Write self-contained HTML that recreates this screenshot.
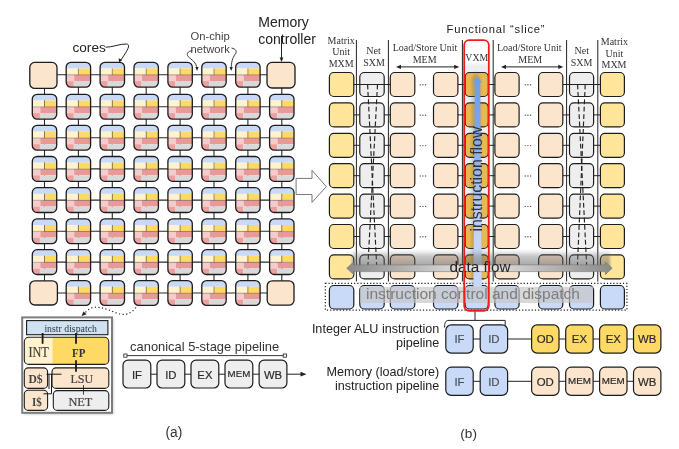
<!DOCTYPE html>
<html><head><meta charset="utf-8"><title>Architecture figure</title>
<style>html,body{margin:0;padding:0;background:#fff;}svg{display:block;will-change:transform;}text{font-family:"Liberation Sans", Arial, sans-serif;}.se{font-family:"Liberation Serif", "Times New Roman", serif;}</style></head><body>
<svg width="679" height="449" viewBox="0 0 679 449">
<defs>
<filter id="bl2" x="-20%" y="-20%" width="140%" height="140%"><feGaussianBlur stdDeviation="1.6"/></filter>
<filter id="bl3" x="-20%" y="-50%" width="140%" height="200%"><feGaussianBlur stdDeviation="2.2"/></filter>
<filter id="bl1" x="-20%" y="-20%" width="140%" height="140%"><feGaussianBlur stdDeviation="0.9"/></filter>
<linearGradient id="gIF" x1="0" y1="1" x2="0" y2="0"><stop offset="0" stop-color="#c9daf8"/><stop offset="0.3" stop-color="#c3d5f6"/><stop offset="0.75" stop-color="#7da7ec"/><stop offset="1" stop-color="#6d9eeb"/></linearGradient>
<linearGradient id="gDF" x1="0" y1="0" x2="1" y2="0"><stop offset="0" stop-color="#8a8a8a"/><stop offset="0.5" stop-color="#e8e8e8"/><stop offset="1" stop-color="#8a8a8a"/></linearGradient>
<linearGradient id="gSH" x1="0" y1="0" x2="0" y2="1"><stop offset="0" stop-color="#666" stop-opacity="0"/><stop offset="0.35" stop-color="#666" stop-opacity="0.38"/><stop offset="1" stop-color="#555" stop-opacity="0.55"/></linearGradient>
<clipPath id="cc"><rect x="-12.2" y="-12.4" width="24.4" height="24.8" rx="4.8"/></clipPath>
<g id="core">
<g clip-path="url(#cc)">
<rect x="-12.2" y="-12.4" width="24.4" height="6.2" fill="#c9daf8"/>
<rect x="-12.2" y="-6.2" width="12.2" height="6.4" fill="#fff2cc"/>
<rect x="0" y="-6.2" width="12.2" height="6.4" fill="#ffd966"/>
<rect x="-12.2" y="0.2" width="8" height="6.2" fill="#f4cccc"/>
<rect x="-4.2" y="0.2" width="16.4" height="6.2" fill="#ea9999"/>
<rect x="-12.2" y="6.4" width="7.6" height="6" fill="#ee9f9f"/>
<rect x="-4.6" y="6.4" width="16.8" height="6" fill="#d9d9d9"/>
<line x1="-12.2" y1="0.2" x2="12.2" y2="0.2" stroke="#555" stroke-width="0.7" opacity="0.55"/>
<line x1="0" y1="-6.2" x2="0" y2="0.2" stroke="#444" stroke-width="0.9" opacity="0.6"/>
</g>
<rect x="-12.2" y="-12.4" width="24.4" height="24.8" rx="4.8" fill="none" stroke="#1c1c1c" stroke-width="1.3"/>
</g>
</defs>
<rect width="679" height="449" fill="#ffffff"/>
<g stroke="#2a2a2a" stroke-width="1.1">
<line x1="44.5" y1="74.7" x2="281.8" y2="74.7"/>
<line x1="44.5" y1="106.7" x2="281.8" y2="106.7"/>
<line x1="44.5" y1="137.8" x2="281.8" y2="137.8"/>
<line x1="44.5" y1="168.9" x2="281.8" y2="168.9"/>
<line x1="44.5" y1="200.1" x2="281.8" y2="200.1"/>
<line x1="44.5" y1="231.2" x2="281.8" y2="231.2"/>
<line x1="44.5" y1="262.1" x2="281.8" y2="262.1"/>
<line x1="44.5" y1="293.0" x2="281.8" y2="293.0"/>
<line x1="44.5" y1="74.7" x2="44.5" y2="293.0"/>
<line x1="78.4" y1="74.7" x2="78.4" y2="293.0"/>
<line x1="112.3" y1="74.7" x2="112.3" y2="293.0"/>
<line x1="146.2" y1="74.7" x2="146.2" y2="293.0"/>
<line x1="180.1" y1="74.7" x2="180.1" y2="293.0"/>
<line x1="214.0" y1="74.7" x2="214.0" y2="293.0"/>
<line x1="247.9" y1="74.7" x2="247.9" y2="293.0"/>
<line x1="281.8" y1="74.7" x2="281.8" y2="293.0"/>
</g>
<rect x="29.8" y="62.4" width="27.2" height="26.0" rx="5" fill="#fce5cd" stroke="#1c1c1c" stroke-width="1.3"/>
<use href="#core" x="78.4" y="74.7"/>
<use href="#core" x="112.3" y="74.7"/>
<use href="#core" x="146.2" y="74.7"/>
<use href="#core" x="180.1" y="74.7"/>
<use href="#core" x="214.0" y="74.7"/>
<use href="#core" x="247.9" y="74.7"/>
<rect x="267.0" y="62.4" width="28.0" height="25.6" rx="5" fill="#fce5cd" stroke="#1c1c1c" stroke-width="1.3"/>
<use href="#core" x="44.5" y="106.7"/>
<use href="#core" x="78.4" y="106.7"/>
<use href="#core" x="112.3" y="106.7"/>
<use href="#core" x="146.2" y="106.7"/>
<use href="#core" x="180.1" y="106.7"/>
<use href="#core" x="214.0" y="106.7"/>
<use href="#core" x="247.9" y="106.7"/>
<use href="#core" x="281.8" y="106.7"/>
<use href="#core" x="44.5" y="137.8"/>
<use href="#core" x="78.4" y="137.8"/>
<use href="#core" x="112.3" y="137.8"/>
<use href="#core" x="146.2" y="137.8"/>
<use href="#core" x="180.1" y="137.8"/>
<use href="#core" x="214.0" y="137.8"/>
<use href="#core" x="247.9" y="137.8"/>
<use href="#core" x="281.8" y="137.8"/>
<use href="#core" x="44.5" y="168.9"/>
<use href="#core" x="78.4" y="168.9"/>
<use href="#core" x="112.3" y="168.9"/>
<use href="#core" x="146.2" y="168.9"/>
<use href="#core" x="180.1" y="168.9"/>
<use href="#core" x="214.0" y="168.9"/>
<use href="#core" x="247.9" y="168.9"/>
<use href="#core" x="281.8" y="168.9"/>
<use href="#core" x="44.5" y="200.1"/>
<use href="#core" x="78.4" y="200.1"/>
<use href="#core" x="112.3" y="200.1"/>
<use href="#core" x="146.2" y="200.1"/>
<use href="#core" x="180.1" y="200.1"/>
<use href="#core" x="214.0" y="200.1"/>
<use href="#core" x="247.9" y="200.1"/>
<use href="#core" x="281.8" y="200.1"/>
<use href="#core" x="44.5" y="231.2"/>
<use href="#core" x="78.4" y="231.2"/>
<use href="#core" x="112.3" y="231.2"/>
<use href="#core" x="146.2" y="231.2"/>
<use href="#core" x="180.1" y="231.2"/>
<use href="#core" x="214.0" y="231.2"/>
<use href="#core" x="247.9" y="231.2"/>
<use href="#core" x="281.8" y="231.2"/>
<use href="#core" x="44.5" y="262.1"/>
<use href="#core" x="78.4" y="262.1"/>
<use href="#core" x="112.3" y="262.1"/>
<use href="#core" x="146.2" y="262.1"/>
<use href="#core" x="180.1" y="262.1"/>
<use href="#core" x="214.0" y="262.1"/>
<use href="#core" x="247.9" y="262.1"/>
<use href="#core" x="281.8" y="262.1"/>
<rect x="29.8" y="280.8" width="27.6" height="24.2" rx="5" fill="#fce5cd" stroke="#1c1c1c" stroke-width="1.3"/>
<use href="#core" x="78.4" y="293.0"/>
<use href="#core" x="112.3" y="293.0"/>
<use href="#core" x="146.2" y="293.0"/>
<use href="#core" x="180.1" y="293.0"/>
<use href="#core" x="214.0" y="293.0"/>
<use href="#core" x="247.9" y="293.0"/>
<rect x="267.2" y="280.8" width="26.8" height="24.4" rx="5" fill="#fce5cd" stroke="#1c1c1c" stroke-width="1.3"/>
<text x="72.5" y="52.2" font-size="13.6" fill="#222">cores</text>
<path d="M105.5 47.2 C112 47.5 120 43.6 126.5 44 C131 44.5 128 50 119.8 61.5" fill="none" stroke="#222" stroke-width="1"/>
<path d="M119.2 62.4 L118.6 58.2 L122.2 60 Z" fill="#222"/>
<text x="190.6" y="40" font-size="11.2" fill="#444">On-chip</text>
<text x="190.6" y="53.4" font-size="11.2" fill="#444">network</text>
<path d="M192.4 50.6 C188 51 186 54 188.2 56.6 C191.5 60 196.6 62 196.9 69" fill="none" stroke="#222" stroke-width="0.9"/>
<path d="M197 71 L195.4 67 L198.6 67 Z" fill="#222"/>
<path d="M231.5 48 C236 49 237.5 51.5 235 54.5 C232.5 58 231.3 62 231.2 69" fill="none" stroke="#222" stroke-width="0.9"/>
<path d="M231.2 71 L229.6 67 L232.8 67 Z" fill="#222"/>
<text x="258.3" y="27.2" font-size="14" fill="#222">Memory</text>
<text x="258.3" y="44" font-size="14" fill="#222">controller</text>
<line x1="281.5" y1="36" x2="281.5" y2="59" stroke="#222" stroke-width="1"/>
<path d="M281.5 62 L279.6 57.5 L283.4 57.5 Z" fill="#222"/>
<path d="M135.8 307.5 C132 313 126 315.5 120 314 C111 311.5 103 306.5 94 307.3 C90 307.8 86.5 311 84 314" fill="none" stroke="#222" stroke-width="1.2" stroke-dasharray="1.2 2.4"/>
<path d="M81.6 316 L83.4 311.4 L86.6 314.2 Z" fill="#222"/>
<rect x="23.4" y="318.8" width="90" height="95.6" fill="#9a9a9a" opacity="0.55" filter="url(#bl1)"/>
<rect x="22.2" y="317.4" width="89.8" height="95.4" fill="#ffffff" stroke="#7d7d7d" stroke-width="2"/>
<rect x="26.6" y="320.6" width="81.3" height="14.1" fill="#cfe2f3" stroke="#1c1c1c" stroke-width="1.1"/>
<clipPath id="cfp"><rect x="24.3" y="337.3" width="84.5" height="27.1" rx="4.5"/></clipPath>
<g clip-path="url(#cfp)"><rect x="24.3" y="337.3" width="28.2" height="27.1" fill="#fff2cc"/><rect x="52.5" y="337.3" width="56.3" height="27.1" fill="#ffd966"/></g>
<rect x="24.3" y="337.3" width="84.5" height="27.1" rx="4.5" fill="none" stroke="#1c1c1c" stroke-width="1.1"/>
<rect x="24.3" y="367.9" width="23.3" height="20.5" rx="4" fill="#fce5cd" stroke="#1c1c1c" stroke-width="1.1"/>
<rect x="52" y="367.9" width="56.8" height="20.5" rx="4" fill="#fce5cd" stroke="#1c1c1c" stroke-width="1.1"/>
<rect x="24.3" y="390.2" width="23.3" height="20.2" rx="4" fill="#fce5cd" stroke="#1c1c1c" stroke-width="1.1"/>
<rect x="53.3" y="390.6" width="55.5" height="19.8" rx="4" fill="#eeeeee" stroke="#1c1c1c" stroke-width="1.1"/>
<g stroke="#1a1a1a" fill="none">
<line x1="42.6" y1="333" x2="42.6" y2="343.8" stroke-width="1.8"/>
<line x1="76" y1="333" x2="76" y2="343.8" stroke-width="1.8"/>
<line x1="76" y1="360.3" x2="76" y2="371.8" stroke-width="1.8"/>
<line x1="83.5" y1="385" x2="83.5" y2="394.7" stroke-width="0.8"/>
<path d="M46.5 374.2 H61.5 M51.5 374.2 V393.8 H43.5 M49 374.2 V389" stroke-width="1"/>
</g>
<g class="se">
<text class="se" x="44.4" y="332" font-size="9.9" textLength="52.5" lengthAdjust="spacingAndGlyphs" fill="#333">instr dispatch</text>
<text class="se" x="28.4" y="356.7" font-size="14" textLength="20.4" lengthAdjust="spacingAndGlyphs" fill="#444" stroke="#444" stroke-width="0.2">INT</text>
<text class="se" x="72" y="356.7" font-size="13.4" font-weight="bold" textLength="13.3" lengthAdjust="spacingAndGlyphs" fill="#333">FP</text>
<text class="se" x="28.4" y="383.4" font-size="13" font-weight="bold" textLength="14.2" lengthAdjust="spacingAndGlyphs" fill="#444">D$</text>
<text class="se" x="70.5" y="383.4" font-size="13.2" textLength="22.8" lengthAdjust="spacingAndGlyphs" fill="#444" stroke="#444" stroke-width="0.2">LSU</text>
<text class="se" x="31.9" y="405.7" font-size="13" font-weight="bold" textLength="9.8" lengthAdjust="spacingAndGlyphs" fill="#444">I$</text>
<text class="se" x="68.4" y="405.7" font-size="13" textLength="24" lengthAdjust="spacingAndGlyphs" fill="#444" stroke="#444" stroke-width="0.2">NET</text>
</g>
<text x="130.1" y="351.4" font-size="12.9" fill="#333">canonical 5-stage pipeline</text>
<line x1="125.5" y1="355.6" x2="284.8" y2="355.6" stroke="#222" stroke-width="0.9"/>
<rect x="123.8" y="354" width="3.2" height="3.2" fill="#fff" stroke="#222" stroke-width="0.8"/>
<rect x="283.2" y="354" width="3.2" height="3.2" fill="#fff" stroke="#222" stroke-width="0.8"/>
<line x1="150" y1="374.2" x2="262" y2="374.2" stroke="#222" stroke-width="1"/>
<line x1="287" y1="374.2" x2="302" y2="374.2" stroke="#222" stroke-width="1"/>
<path d="M306.5 374.2 L300.5 371.8 L300.5 376.6 Z" fill="#222"/>
<rect x="123.0" y="360.2" width="27.8" height="27.8" rx="5" fill="#eeeeee" stroke="#1c1c1c" stroke-width="1.2"/>
<text x="136.9" y="378.5" font-size="11.3" text-anchor="middle" fill="#2a2a2a" stroke="#2a2a2a" stroke-width="0.18">IF</text>
<rect x="157.0" y="360.2" width="27.8" height="27.8" rx="5" fill="#eeeeee" stroke="#1c1c1c" stroke-width="1.2"/>
<text x="170.9" y="378.5" font-size="11.3" text-anchor="middle" fill="#2a2a2a" stroke="#2a2a2a" stroke-width="0.18">ID</text>
<rect x="191.0" y="360.2" width="27.8" height="27.8" rx="5" fill="#eeeeee" stroke="#1c1c1c" stroke-width="1.2"/>
<text x="204.9" y="378.5" font-size="11.3" text-anchor="middle" fill="#2a2a2a" stroke="#2a2a2a" stroke-width="0.18">EX</text>
<rect x="225.0" y="360.2" width="27.8" height="27.8" rx="5" fill="#eeeeee" stroke="#1c1c1c" stroke-width="1.2"/>
<text x="238.9" y="377.2" font-size="9.7" text-anchor="middle" fill="#2a2a2a" stroke="#2a2a2a" stroke-width="0.18">MEM</text>
<rect x="259.1" y="360.2" width="27.8" height="27.8" rx="5" fill="#eeeeee" stroke="#1c1c1c" stroke-width="1.2"/>
<text x="273.0" y="378.5" font-size="11.3" text-anchor="middle" fill="#2a2a2a" stroke="#2a2a2a" stroke-width="0.18">WB</text>
<text x="165.5" y="436.8" font-size="13.8" fill="#333">(a)</text>
<path d="M296.1 178.4 H312 V170.3 L326.3 186.6 L312 202.4 V194.5 H296.1 Z" fill="#fff" stroke="#777" stroke-width="1"/>
<g stroke="#222" stroke-width="1">
<line x1="356.4" y1="40" x2="356.4" y2="281.5"/>
<line x1="388.4" y1="40" x2="388.4" y2="281.5"/>
<line x1="462.4" y1="40" x2="462.4" y2="281.5"/>
<line x1="493.2" y1="40" x2="493.2" y2="281.5"/>
<line x1="566.6" y1="40" x2="566.6" y2="281.5"/>
<line x1="597.8" y1="40" x2="597.8" y2="281.5"/>
</g>
<g stroke="#222" stroke-width="1">
<line x1="353.8" y1="84.5" x2="359.8" y2="84.5"/>
<line x1="384.2" y1="84.5" x2="390.3" y2="84.5"/>
<line x1="457.9" y1="84.5" x2="465.1" y2="84.5"/>
<line x1="488.3" y1="84.5" x2="494.9" y2="84.5"/>
<line x1="562.8" y1="84.5" x2="569.5" y2="84.5"/>
<line x1="593.6" y1="84.5" x2="600.4" y2="84.5"/>
<line x1="353.8" y1="114.9" x2="359.8" y2="114.9"/>
<line x1="384.2" y1="114.9" x2="390.3" y2="114.9"/>
<line x1="457.9" y1="114.9" x2="465.1" y2="114.9"/>
<line x1="488.3" y1="114.9" x2="494.9" y2="114.9"/>
<line x1="562.8" y1="114.9" x2="569.5" y2="114.9"/>
<line x1="593.6" y1="114.9" x2="600.4" y2="114.9"/>
<line x1="353.8" y1="145.3" x2="359.8" y2="145.3"/>
<line x1="384.2" y1="145.3" x2="390.3" y2="145.3"/>
<line x1="457.9" y1="145.3" x2="465.1" y2="145.3"/>
<line x1="488.3" y1="145.3" x2="494.9" y2="145.3"/>
<line x1="562.8" y1="145.3" x2="569.5" y2="145.3"/>
<line x1="593.6" y1="145.3" x2="600.4" y2="145.3"/>
<line x1="353.8" y1="175.7" x2="359.8" y2="175.7"/>
<line x1="384.2" y1="175.7" x2="390.3" y2="175.7"/>
<line x1="457.9" y1="175.7" x2="465.1" y2="175.7"/>
<line x1="488.3" y1="175.7" x2="494.9" y2="175.7"/>
<line x1="562.8" y1="175.7" x2="569.5" y2="175.7"/>
<line x1="593.6" y1="175.7" x2="600.4" y2="175.7"/>
<line x1="353.8" y1="206.1" x2="359.8" y2="206.1"/>
<line x1="384.2" y1="206.1" x2="390.3" y2="206.1"/>
<line x1="457.9" y1="206.1" x2="465.1" y2="206.1"/>
<line x1="488.3" y1="206.1" x2="494.9" y2="206.1"/>
<line x1="562.8" y1="206.1" x2="569.5" y2="206.1"/>
<line x1="593.6" y1="206.1" x2="600.4" y2="206.1"/>
<line x1="353.8" y1="236.5" x2="359.8" y2="236.5"/>
<line x1="384.2" y1="236.5" x2="390.3" y2="236.5"/>
<line x1="457.9" y1="236.5" x2="465.1" y2="236.5"/>
<line x1="488.3" y1="236.5" x2="494.9" y2="236.5"/>
<line x1="562.8" y1="236.5" x2="569.5" y2="236.5"/>
<line x1="593.6" y1="236.5" x2="600.4" y2="236.5"/>
<line x1="353.8" y1="266.9" x2="359.8" y2="266.9"/>
<line x1="384.2" y1="266.9" x2="390.3" y2="266.9"/>
<line x1="457.9" y1="266.9" x2="465.1" y2="266.9"/>
<line x1="488.3" y1="266.9" x2="494.9" y2="266.9"/>
<line x1="562.8" y1="266.9" x2="569.5" y2="266.9"/>
<line x1="593.6" y1="266.9" x2="600.4" y2="266.9"/>
</g>
<rect x="329.4" y="72.5" width="24.4" height="24.0" rx="4.5" fill="#ffe599" stroke="#1c1c1c" stroke-width="1.2"/>
<rect x="359.8" y="72.5" width="24.4" height="24.0" rx="4.5" fill="#eeeeee" stroke="#1c1c1c" stroke-width="1.2"/>
<rect x="390.3" y="72.5" width="24.5" height="24.0" rx="4.5" fill="#fce5cd" stroke="#1c1c1c" stroke-width="1.2"/>
<rect x="433.5" y="72.5" width="24.4" height="24.0" rx="4.5" fill="#fce5cd" stroke="#1c1c1c" stroke-width="1.2"/>
<rect x="465.1" y="72.5" width="23.2" height="24.0" rx="4.5" fill="#f6c44c" stroke="#1c1c1c" stroke-width="1.2"/>
<rect x="494.9" y="72.5" width="24.2" height="24.0" rx="4.5" fill="#fce5cd" stroke="#1c1c1c" stroke-width="1.2"/>
<rect x="538.6" y="72.5" width="24.2" height="24.0" rx="4.5" fill="#fce5cd" stroke="#1c1c1c" stroke-width="1.2"/>
<rect x="569.5" y="72.5" width="24.1" height="24.0" rx="4.5" fill="#eeeeee" stroke="#1c1c1c" stroke-width="1.2"/>
<rect x="600.4" y="72.5" width="24.0" height="24.0" rx="4.5" fill="#ffe599" stroke="#1c1c1c" stroke-width="1.2"/>
<circle cx="420.2" cy="84.8" r="0.7" fill="#555"/>
<circle cx="422.9" cy="84.8" r="0.7" fill="#555"/>
<circle cx="425.6" cy="84.8" r="0.7" fill="#555"/>
<circle cx="525.2" cy="84.8" r="0.7" fill="#555"/>
<circle cx="527.9" cy="84.8" r="0.7" fill="#555"/>
<circle cx="530.6" cy="84.8" r="0.7" fill="#555"/>
<rect x="329.4" y="102.9" width="24.4" height="24.0" rx="4.5" fill="#ffe599" stroke="#1c1c1c" stroke-width="1.2"/>
<rect x="359.8" y="102.9" width="24.4" height="24.0" rx="4.5" fill="#eeeeee" stroke="#1c1c1c" stroke-width="1.2"/>
<rect x="390.3" y="102.9" width="24.5" height="24.0" rx="4.5" fill="#fce5cd" stroke="#1c1c1c" stroke-width="1.2"/>
<rect x="433.5" y="102.9" width="24.4" height="24.0" rx="4.5" fill="#fce5cd" stroke="#1c1c1c" stroke-width="1.2"/>
<rect x="465.1" y="102.9" width="23.2" height="24.0" rx="4.5" fill="#f6c44c" stroke="#1c1c1c" stroke-width="1.2"/>
<rect x="494.9" y="102.9" width="24.2" height="24.0" rx="4.5" fill="#fce5cd" stroke="#1c1c1c" stroke-width="1.2"/>
<rect x="538.6" y="102.9" width="24.2" height="24.0" rx="4.5" fill="#fce5cd" stroke="#1c1c1c" stroke-width="1.2"/>
<rect x="569.5" y="102.9" width="24.1" height="24.0" rx="4.5" fill="#eeeeee" stroke="#1c1c1c" stroke-width="1.2"/>
<rect x="600.4" y="102.9" width="24.0" height="24.0" rx="4.5" fill="#ffe599" stroke="#1c1c1c" stroke-width="1.2"/>
<circle cx="420.2" cy="115.2" r="0.7" fill="#555"/>
<circle cx="422.9" cy="115.2" r="0.7" fill="#555"/>
<circle cx="425.6" cy="115.2" r="0.7" fill="#555"/>
<circle cx="525.2" cy="115.2" r="0.7" fill="#555"/>
<circle cx="527.9" cy="115.2" r="0.7" fill="#555"/>
<circle cx="530.6" cy="115.2" r="0.7" fill="#555"/>
<rect x="329.4" y="133.3" width="24.4" height="24.0" rx="4.5" fill="#ffe599" stroke="#1c1c1c" stroke-width="1.2"/>
<rect x="359.8" y="133.3" width="24.4" height="24.0" rx="4.5" fill="#eeeeee" stroke="#1c1c1c" stroke-width="1.2"/>
<rect x="390.3" y="133.3" width="24.5" height="24.0" rx="4.5" fill="#fce5cd" stroke="#1c1c1c" stroke-width="1.2"/>
<rect x="433.5" y="133.3" width="24.4" height="24.0" rx="4.5" fill="#fce5cd" stroke="#1c1c1c" stroke-width="1.2"/>
<rect x="465.1" y="133.3" width="23.2" height="24.0" rx="4.5" fill="#f6c44c" stroke="#1c1c1c" stroke-width="1.2"/>
<rect x="494.9" y="133.3" width="24.2" height="24.0" rx="4.5" fill="#fce5cd" stroke="#1c1c1c" stroke-width="1.2"/>
<rect x="538.6" y="133.3" width="24.2" height="24.0" rx="4.5" fill="#fce5cd" stroke="#1c1c1c" stroke-width="1.2"/>
<rect x="569.5" y="133.3" width="24.1" height="24.0" rx="4.5" fill="#eeeeee" stroke="#1c1c1c" stroke-width="1.2"/>
<rect x="600.4" y="133.3" width="24.0" height="24.0" rx="4.5" fill="#ffe599" stroke="#1c1c1c" stroke-width="1.2"/>
<circle cx="420.2" cy="145.6" r="0.7" fill="#555"/>
<circle cx="422.9" cy="145.6" r="0.7" fill="#555"/>
<circle cx="425.6" cy="145.6" r="0.7" fill="#555"/>
<circle cx="525.2" cy="145.6" r="0.7" fill="#555"/>
<circle cx="527.9" cy="145.6" r="0.7" fill="#555"/>
<circle cx="530.6" cy="145.6" r="0.7" fill="#555"/>
<rect x="329.4" y="163.7" width="24.4" height="24.0" rx="4.5" fill="#ffe599" stroke="#1c1c1c" stroke-width="1.2"/>
<rect x="359.8" y="163.7" width="24.4" height="24.0" rx="4.5" fill="#eeeeee" stroke="#1c1c1c" stroke-width="1.2"/>
<rect x="390.3" y="163.7" width="24.5" height="24.0" rx="4.5" fill="#fce5cd" stroke="#1c1c1c" stroke-width="1.2"/>
<rect x="433.5" y="163.7" width="24.4" height="24.0" rx="4.5" fill="#fce5cd" stroke="#1c1c1c" stroke-width="1.2"/>
<rect x="465.1" y="163.7" width="23.2" height="24.0" rx="4.5" fill="#f6c44c" stroke="#1c1c1c" stroke-width="1.2"/>
<rect x="494.9" y="163.7" width="24.2" height="24.0" rx="4.5" fill="#fce5cd" stroke="#1c1c1c" stroke-width="1.2"/>
<rect x="538.6" y="163.7" width="24.2" height="24.0" rx="4.5" fill="#fce5cd" stroke="#1c1c1c" stroke-width="1.2"/>
<rect x="569.5" y="163.7" width="24.1" height="24.0" rx="4.5" fill="#eeeeee" stroke="#1c1c1c" stroke-width="1.2"/>
<rect x="600.4" y="163.7" width="24.0" height="24.0" rx="4.5" fill="#ffe599" stroke="#1c1c1c" stroke-width="1.2"/>
<circle cx="420.2" cy="176.0" r="0.7" fill="#555"/>
<circle cx="422.9" cy="176.0" r="0.7" fill="#555"/>
<circle cx="425.6" cy="176.0" r="0.7" fill="#555"/>
<circle cx="525.2" cy="176.0" r="0.7" fill="#555"/>
<circle cx="527.9" cy="176.0" r="0.7" fill="#555"/>
<circle cx="530.6" cy="176.0" r="0.7" fill="#555"/>
<rect x="329.4" y="194.1" width="24.4" height="24.0" rx="4.5" fill="#ffe599" stroke="#1c1c1c" stroke-width="1.2"/>
<rect x="359.8" y="194.1" width="24.4" height="24.0" rx="4.5" fill="#eeeeee" stroke="#1c1c1c" stroke-width="1.2"/>
<rect x="390.3" y="194.1" width="24.5" height="24.0" rx="4.5" fill="#fce5cd" stroke="#1c1c1c" stroke-width="1.2"/>
<rect x="433.5" y="194.1" width="24.4" height="24.0" rx="4.5" fill="#fce5cd" stroke="#1c1c1c" stroke-width="1.2"/>
<rect x="465.1" y="194.1" width="23.2" height="24.0" rx="4.5" fill="#f6c44c" stroke="#1c1c1c" stroke-width="1.2"/>
<rect x="494.9" y="194.1" width="24.2" height="24.0" rx="4.5" fill="#fce5cd" stroke="#1c1c1c" stroke-width="1.2"/>
<rect x="538.6" y="194.1" width="24.2" height="24.0" rx="4.5" fill="#fce5cd" stroke="#1c1c1c" stroke-width="1.2"/>
<rect x="569.5" y="194.1" width="24.1" height="24.0" rx="4.5" fill="#eeeeee" stroke="#1c1c1c" stroke-width="1.2"/>
<rect x="600.4" y="194.1" width="24.0" height="24.0" rx="4.5" fill="#ffe599" stroke="#1c1c1c" stroke-width="1.2"/>
<circle cx="420.2" cy="206.4" r="0.7" fill="#555"/>
<circle cx="422.9" cy="206.4" r="0.7" fill="#555"/>
<circle cx="425.6" cy="206.4" r="0.7" fill="#555"/>
<circle cx="525.2" cy="206.4" r="0.7" fill="#555"/>
<circle cx="527.9" cy="206.4" r="0.7" fill="#555"/>
<circle cx="530.6" cy="206.4" r="0.7" fill="#555"/>
<rect x="329.4" y="224.5" width="24.4" height="24.0" rx="4.5" fill="#ffe599" stroke="#1c1c1c" stroke-width="1.2"/>
<rect x="359.8" y="224.5" width="24.4" height="24.0" rx="4.5" fill="#eeeeee" stroke="#1c1c1c" stroke-width="1.2"/>
<rect x="390.3" y="224.5" width="24.5" height="24.0" rx="4.5" fill="#fce5cd" stroke="#1c1c1c" stroke-width="1.2"/>
<rect x="433.5" y="224.5" width="24.4" height="24.0" rx="4.5" fill="#fce5cd" stroke="#1c1c1c" stroke-width="1.2"/>
<rect x="465.1" y="224.5" width="23.2" height="24.0" rx="4.5" fill="#f6c44c" stroke="#1c1c1c" stroke-width="1.2"/>
<rect x="494.9" y="224.5" width="24.2" height="24.0" rx="4.5" fill="#fce5cd" stroke="#1c1c1c" stroke-width="1.2"/>
<rect x="538.6" y="224.5" width="24.2" height="24.0" rx="4.5" fill="#fce5cd" stroke="#1c1c1c" stroke-width="1.2"/>
<rect x="569.5" y="224.5" width="24.1" height="24.0" rx="4.5" fill="#eeeeee" stroke="#1c1c1c" stroke-width="1.2"/>
<rect x="600.4" y="224.5" width="24.0" height="24.0" rx="4.5" fill="#ffe599" stroke="#1c1c1c" stroke-width="1.2"/>
<circle cx="420.2" cy="236.8" r="0.7" fill="#555"/>
<circle cx="422.9" cy="236.8" r="0.7" fill="#555"/>
<circle cx="425.6" cy="236.8" r="0.7" fill="#555"/>
<circle cx="525.2" cy="236.8" r="0.7" fill="#555"/>
<circle cx="527.9" cy="236.8" r="0.7" fill="#555"/>
<circle cx="530.6" cy="236.8" r="0.7" fill="#555"/>
<rect x="329.4" y="254.9" width="24.4" height="24.0" rx="4.5" fill="#ffe599" stroke="#1c1c1c" stroke-width="1.2"/>
<rect x="359.8" y="254.9" width="24.4" height="24.0" rx="4.5" fill="#eeeeee" stroke="#1c1c1c" stroke-width="1.2"/>
<rect x="390.3" y="254.9" width="24.5" height="24.0" rx="4.5" fill="#fce5cd" stroke="#1c1c1c" stroke-width="1.2"/>
<rect x="433.5" y="254.9" width="24.4" height="24.0" rx="4.5" fill="#fce5cd" stroke="#1c1c1c" stroke-width="1.2"/>
<rect x="465.1" y="254.9" width="23.2" height="24.0" rx="4.5" fill="#f6c44c" stroke="#1c1c1c" stroke-width="1.2"/>
<rect x="494.9" y="254.9" width="24.2" height="24.0" rx="4.5" fill="#fce5cd" stroke="#1c1c1c" stroke-width="1.2"/>
<rect x="538.6" y="254.9" width="24.2" height="24.0" rx="4.5" fill="#fce5cd" stroke="#1c1c1c" stroke-width="1.2"/>
<rect x="569.5" y="254.9" width="24.1" height="24.0" rx="4.5" fill="#eeeeee" stroke="#1c1c1c" stroke-width="1.2"/>
<rect x="600.4" y="254.9" width="24.0" height="24.0" rx="4.5" fill="#ffe599" stroke="#1c1c1c" stroke-width="1.2"/>
<circle cx="420.2" cy="267.2" r="0.7" fill="#555"/>
<circle cx="422.9" cy="267.2" r="0.7" fill="#555"/>
<circle cx="425.6" cy="267.2" r="0.7" fill="#555"/>
<circle cx="525.2" cy="267.2" r="0.7" fill="#555"/>
<circle cx="527.9" cy="267.2" r="0.7" fill="#555"/>
<circle cx="530.6" cy="267.2" r="0.7" fill="#555"/>
<g stroke="#222" stroke-width="1" fill="none">
<line x1="359.8" y1="84.5" x2="384.2" y2="84.5"/>
<line x1="569.5" y1="84.5" x2="593.6" y2="84.5"/>
<g stroke-dasharray="4.8 2.6" stroke-width="1.15">
<line x1="367.6" y1="84.6" x2="376.7" y2="266"/>
<line x1="377.5" y1="84.6" x2="367.9" y2="266"/>
<line x1="577.6" y1="84.6" x2="586.7" y2="266"/>
<line x1="585.2" y1="84.6" x2="577.4" y2="266"/>
</g></g>
<rect x="325.3" y="283.3" width="301.6" height="26.8" fill="none" stroke="#222" stroke-width="1.2" stroke-dasharray="1.2 2"/>
<rect x="329.4" y="285.5" width="24.4" height="23.5" rx="4.5" fill="#c9daf8" stroke="#1c1c1c" stroke-width="1.2"/>
<rect x="359.8" y="285.5" width="24.4" height="23.5" rx="4.5" fill="#c9daf8" stroke="#1c1c1c" stroke-width="1.2"/>
<rect x="390.3" y="285.5" width="24.5" height="23.5" rx="4.5" fill="#c9daf8" stroke="#1c1c1c" stroke-width="1.2"/>
<rect x="433.5" y="285.5" width="24.4" height="23.5" rx="4.5" fill="#c9daf8" stroke="#1c1c1c" stroke-width="1.2"/>
<rect x="465.1" y="285.5" width="23.2" height="23.5" rx="4.5" fill="#c9daf8" stroke="#1c1c1c" stroke-width="1.2"/>
<rect x="494.9" y="285.5" width="24.2" height="23.5" rx="4.5" fill="#c9daf8" stroke="#1c1c1c" stroke-width="1.2"/>
<rect x="538.6" y="285.5" width="24.2" height="23.5" rx="4.5" fill="#c9daf8" stroke="#1c1c1c" stroke-width="1.2"/>
<rect x="569.5" y="285.5" width="24.1" height="23.5" rx="4.5" fill="#c9daf8" stroke="#1c1c1c" stroke-width="1.2"/>
<rect x="600.4" y="285.5" width="24.0" height="23.5" rx="4.5" fill="#c9daf8" stroke="#1c1c1c" stroke-width="1.2"/>
<rect x="465" y="64" width="23.6" height="222" fill="#667" opacity="0.10" filter="url(#bl1)"/>
<path d="M472 84 L477.4 75.5 L482.8 84 L481.6 84 L482.2 305 L473.2 305 L473.4 84 Z" fill="#556" opacity="0.28" filter="url(#bl2)" transform="translate(-1.5,-4)"/>
<path d="M477.4 76.6 L482.2 82.6 L480.2 82.6 L481.9 305.5 L473.3 305.5 L474.8 82.6 L472.6 82.6 Z" fill="url(#gIF)"/>
<text transform="translate(481.6,231.6) rotate(-90)" font-size="15.8" fill="#333" textLength="105" lengthAdjust="spacingAndGlyphs">instruction flow</text>
<rect x="360" y="286.8" width="233" height="16.2" fill="#c6c6c6" opacity="0.68"/>
<text x="366" y="298.8" font-size="15.5" fill="#7d7d7d" textLength="214" lengthAdjust="spacingAndGlyphs">instruction control and dispatch</text>
<rect x="352" y="250" width="258" height="18" fill="url(#gSH)" filter="url(#bl1)"/>
<path d="M346.7 268.2 L353.6 262 V264.9 H605.4 V262 L612.2 268.2 L605.4 274.6 V271.6 H353.6 V274.6 Z" fill="url(#gDF)" stroke="#777" stroke-width="0.6"/>
<text x="449.4" y="272" font-size="15.3" fill="#222">data flow</text>
<rect x="464.2" y="40.2" width="24.6" height="270.6" rx="5" fill="none" stroke="#ee1c1c" stroke-width="1.8"/>
<text x="446.6" y="32.8" font-size="11.2" textLength="98" lengthAdjust="spacing" fill="#222">Functional “slice”</text>
<text class="se" x="341.2" y="43.6" font-size="10.0" text-anchor="middle" fill="#333">Matrix</text>
<text class="se" x="341.2" y="55.3" font-size="10.0" text-anchor="middle" fill="#333">Unit</text>
<text class="se" x="341.2" y="66.7" font-size="10.0" text-anchor="middle" fill="#333">MXM</text>
<text class="se" x="373.6" y="54.0" font-size="10.0" text-anchor="middle" fill="#333">Net</text>
<text class="se" x="374.0" y="65.9" font-size="10.0" text-anchor="middle" fill="#333">SXM</text>
<text class="se" x="425.0" y="51.3" font-size="10.0" text-anchor="middle" fill="#333">Load/Store Unit</text>
<text class="se" x="424.6" y="62.7" font-size="10.0" text-anchor="middle" fill="#333">MEM</text>
<text class="se" x="476.8" y="61.4" font-size="9.8" text-anchor="middle" fill="#333">VXM</text>
<text class="se" x="529.3" y="51.3" font-size="10.0" text-anchor="middle" fill="#333">Load/Store Unit</text>
<text class="se" x="530.2" y="62.7" font-size="10.0" text-anchor="middle" fill="#333">MEM</text>
<text class="se" x="581.8" y="54.4" font-size="10.0" text-anchor="middle" fill="#333">Net</text>
<text class="se" x="581.6" y="65.7" font-size="10.0" text-anchor="middle" fill="#333">SXM</text>
<text class="se" x="614.4" y="44.7" font-size="10.0" text-anchor="middle" fill="#333">Matrix</text>
<text class="se" x="614.4" y="56.6" font-size="10.0" text-anchor="middle" fill="#333">Unit</text>
<text class="se" x="614.0" y="67.8" font-size="10.0" text-anchor="middle" fill="#333">MXM</text>
<line x1="399.0" y1="66.9" x2="456.2" y2="66.9" stroke="#222" stroke-width="1"/>
<path d="M396.0 66.9 l5 -2.2 v4.4 Z" fill="#222"/>
<path d="M459.2 66.9 l-5 -2.2 v4.4 Z" fill="#222"/>
<line x1="504.0" y1="66.9" x2="560.3" y2="66.9" stroke="#222" stroke-width="1"/>
<path d="M501.0 66.9 l5 -2.2 v4.4 Z" fill="#222"/>
<path d="M563.3 66.9 l-5 -2.2 v4.4 Z" fill="#222"/>
<path d="M444.6 327.5 C444.6 322.5 445.5 320.4 449 320.4 H505.2 V325.6 M475 320.4 V311.6" fill="none" stroke="#222" stroke-width="1"/>
<g text-anchor="end" font-size="12.6" fill="#222">
<text x="439.3" y="333" font-size="12.6" text-anchor="end">Integer ALU instruction</text>
<text x="439.3" y="347.2" font-size="12.6" text-anchor="end">pipeline</text>
<text x="439.3" y="376.2" font-size="12.6" text-anchor="end">Memory (load/store)</text>
<text x="439.3" y="390.2" font-size="12.6" text-anchor="end">instruction pipeline</text>
</g>
<line x1="473" y1="339.0" x2="634" y2="339.0" stroke="#222" stroke-width="1"/>
<rect x="445.8" y="324.9" width="27.4" height="28.2" rx="5.5" fill="#c9daf8" stroke="#1c1c1c" stroke-width="1.2"/>
<text x="459.5" y="343.2" font-size="11.4" text-anchor="middle" fill="#4a4f5a" stroke="#4a4f5a" stroke-width="0.18">IF</text>
<rect x="480.2" y="324.9" width="27.4" height="28.2" rx="5.5" fill="#c9daf8" stroke="#1c1c1c" stroke-width="1.2"/>
<text x="493.9" y="343.2" font-size="11.4" text-anchor="middle" fill="#4a4f5a" stroke="#4a4f5a" stroke-width="0.18">ID</text>
<rect x="531.6" y="324.9" width="27.4" height="28.2" rx="5.5" fill="#ffd966" stroke="#1c1c1c" stroke-width="1.2"/>
<text x="545.3" y="343.2" font-size="11.4" text-anchor="middle" fill="#2a2a2a" stroke="#2a2a2a" stroke-width="0.18">OD</text>
<rect x="565.7" y="324.9" width="27.4" height="28.2" rx="5.5" fill="#ffd966" stroke="#1c1c1c" stroke-width="1.2"/>
<text x="579.4" y="343.2" font-size="11.4" text-anchor="middle" fill="#2a2a2a" stroke="#2a2a2a" stroke-width="0.18">EX</text>
<rect x="599.6" y="324.9" width="27.4" height="28.2" rx="5.5" fill="#ffd966" stroke="#1c1c1c" stroke-width="1.2"/>
<text x="613.3" y="343.2" font-size="11.4" text-anchor="middle" fill="#2a2a2a" stroke="#2a2a2a" stroke-width="0.18">EX</text>
<rect x="633.5" y="324.9" width="27.4" height="28.2" rx="5.5" fill="#ffd966" stroke="#1c1c1c" stroke-width="1.2"/>
<text x="647.2" y="343.2" font-size="11.4" text-anchor="middle" fill="#2a2a2a" stroke="#2a2a2a" stroke-width="0.18">WB</text>
<line x1="473" y1="381.3" x2="634" y2="381.3" stroke="#222" stroke-width="1"/>
<rect x="445.8" y="367.2" width="27.4" height="28.2" rx="5.5" fill="#c9daf8" stroke="#1c1c1c" stroke-width="1.2"/>
<text x="459.5" y="385.5" font-size="11.4" text-anchor="middle" fill="#4a4f5a" stroke="#4a4f5a" stroke-width="0.18">IF</text>
<rect x="480.2" y="367.2" width="27.4" height="28.2" rx="5.5" fill="#c9daf8" stroke="#1c1c1c" stroke-width="1.2"/>
<text x="493.9" y="385.5" font-size="11.4" text-anchor="middle" fill="#4a4f5a" stroke="#4a4f5a" stroke-width="0.18">ID</text>
<rect x="531.6" y="367.2" width="27.4" height="28.2" rx="5.5" fill="#fce5cd" stroke="#1c1c1c" stroke-width="1.2"/>
<text x="545.3" y="385.5" font-size="11.4" text-anchor="middle" fill="#2a2a2a" stroke="#2a2a2a" stroke-width="0.18">OD</text>
<rect x="565.7" y="367.2" width="27.4" height="28.2" rx="5.5" fill="#fce5cd" stroke="#1c1c1c" stroke-width="1.2"/>
<text x="579.4" y="384.1" font-size="9.8" text-anchor="middle" fill="#2a2a2a" stroke="#2a2a2a" stroke-width="0.18">MEM</text>
<rect x="599.6" y="367.2" width="27.4" height="28.2" rx="5.5" fill="#fce5cd" stroke="#1c1c1c" stroke-width="1.2"/>
<text x="613.3" y="384.1" font-size="9.8" text-anchor="middle" fill="#2a2a2a" stroke="#2a2a2a" stroke-width="0.18">MEM</text>
<rect x="633.5" y="367.2" width="27.4" height="28.2" rx="5.5" fill="#fce5cd" stroke="#1c1c1c" stroke-width="1.2"/>
<text x="647.2" y="385.5" font-size="11.4" text-anchor="middle" fill="#2a2a2a" stroke="#2a2a2a" stroke-width="0.18">WB</text>
<text x="460.3" y="437.7" font-size="13.6" fill="#333">(b)</text>
</svg></body></html>
